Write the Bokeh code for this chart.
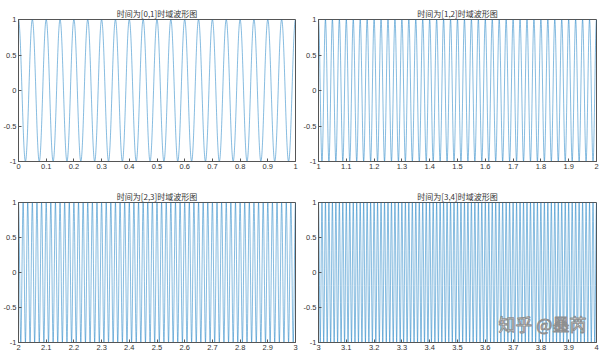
import numpy as np
from bokeh.plotting import figure
from bokeh.layouts import gridplot
from bokeh.models import FixedTicker, Range1d, Label
from bokeh.embed import file_html
from bokeh.resources import INLINE

# ---------------- data ----------------
titles = ["时间为[0,1]时域波形图", "时间为[1,2]时域波形图",
          "时间为[2,3]时域波形图", "时间为[3,4]时域波形图"]
t_start = [0, 1, 2, 3]
t_end = [1, 2, 3, 4]
freq_hz = [20, 40, 60, 80]          # cycles per second
sample_rate = 2000                  # samples per second of the drawn signal
y_tick_labels = ["-1", "-0.5", "0", "0.5", "1"]
x_tick_labels = [
    ["0", "0.1", "0.2", "0.3", "0.4", "0.5", "0.6", "0.7", "0.8", "0.9", "1"],
    ["1", "1.1", "1.2", "1.3", "1.4", "1.5", "1.6", "1.7", "1.8", "1.9", "2"],
    ["2", "2.1", "2.2", "2.3", "2.4", "2.5", "2.6", "2.7", "2.8", "2.9", "3"],
    ["3", "3.1", "3.2", "3.3", "3.4", "3.5", "3.6", "3.7", "3.8", "3.9", "4"],
]
watermark = "知乎 @墨芮"

# ---------------- layout / style ----------------
sizes = [(300, 180), (300, 180), (300, 173), (300, 173)]
borders = [  # left, right, top, bottom
    (14, 3, 19, 18),
    (16, 3, 19, 19),
    (14, 5, 22, 11),
    (12, 4, 20, 11),
]
LINE = "#0072BD"
AX = "#555555"
TXT = "#333333"
FONT = "Liberation Sans"
CJK = "Noto Sans CJK SC"

figs = []
for k in range(4):
    w, h = sizes[k]
    bl, br, bt, bb = borders[k]
    p = figure(width=w, height=h, output_backend="svg", toolbar_location=None,
               x_range=Range1d(t_start[k], t_end[k]), y_range=Range1d(-1, 1),
               min_border_left=bl, min_border_right=br,
               min_border_top=bt, min_border_bottom=bb,
               background_fill_color="white", border_fill_color="white")
    p.title.text = titles[k]
    p.title.align = "center"
    p.title.text_font = CJK
    p.title.text_font_size = "8px"
    p.title.text_font_style = "normal"
    p.title.text_color = TXT
    p.title.standoff = 1
    p.title.offset = 0
    p.xgrid.visible = False
    p.ygrid.visible = False
    p.outline_line_color = AX
    p.outline_line_width = 1

    xt = [float(s) for s in x_tick_labels[k]]
    yt = [float(s) for s in y_tick_labels]

    for ax in p.xaxis:
        ax.ticker = FixedTicker(ticks=xt)
        ax.major_label_overrides = {v: s for v, s in zip(xt, x_tick_labels[k])}
    for ax in p.yaxis:
        ax.ticker = FixedTicker(ticks=yt)
        ax.major_label_overrides = {v: s for v, s in zip(yt, y_tick_labels)}
    for ax in list(p.xaxis) + list(p.yaxis):
        ax.major_tick_in = 3
        ax.major_tick_out = 0
        ax.minor_tick_line_color = None
        ax.axis_line_color = AX
        ax.major_tick_line_color = AX
        ax.major_label_text_font = FONT
        ax.major_label_text_font_size = "7.5px"
        ax.major_label_text_color = TXT
        ax.major_label_standoff = 2

    n = int((t_end[k] - t_start[k]) * sample_rate) + 1
    t = np.linspace(t_start[k], t_end[k], n)
    y = np.cos(2 * np.pi * freq_hz[k] * t)
    p.line(t, y, line_color=LINE, line_width=0.8, line_alpha=0.6)
    figs.append(p)

wm_kwargs = dict(x=180, y=7, x_units="screen", y_units="screen", text=watermark,
                 text_font=CJK, text_font_size="17px", text_color="white",
                 text_alpha=0.95)
if "text_outline_color" in Label.properties():
    wm_kwargs["text_outline_color"] = "#8a8a8a"
figs[3].add_layout(Label(**wm_kwargs))

grid = gridplot([[figs[0], figs[1]], [figs[2], figs[3]]], toolbar_location=None)
open("out.html", "w").write(file_html(grid, INLINE))
